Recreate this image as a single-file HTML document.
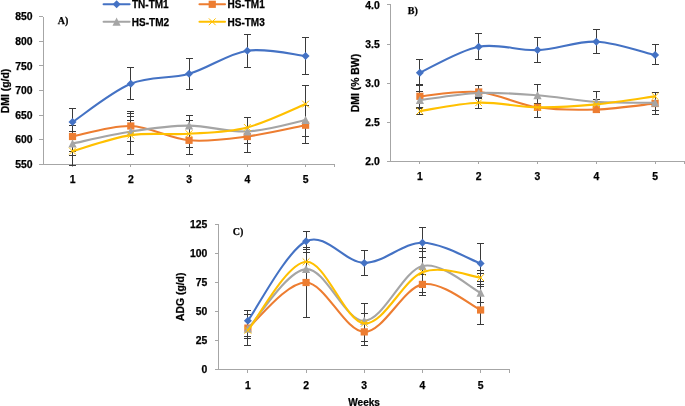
<!DOCTYPE html>
<html><head><meta charset="utf-8"><title>Charts</title>
<style>
html,body{margin:0;padding:0;background:#fff;}
body{width:685px;height:406px;overflow:hidden;font-family:"Liberation Sans", sans-serif;}
svg{display:block;will-change:transform;}
svg text{stroke:#000;stroke-width:0.25px;paint-order:stroke;}
</style></head><body>
<svg width="685" height="406" viewBox="0 0 685 406">
<rect width="685" height="406" fill="#fff"/>
<g stroke="#A6A6A6" stroke-width="1" fill="none" shape-rendering="crispEdges">
<path d="M43.4,16.7 V164.2"/>
<path d="M39.4,16.7 H43.4"/>
<path d="M39.4,41.28 H43.4"/>
<path d="M39.4,65.87 H43.4"/>
<path d="M39.4,90.45 H43.4"/>
<path d="M39.4,115.03 H43.4"/>
<path d="M39.4,139.62 H43.4"/>
<path d="M39.4,164.2 H43.4"/>
<path d="M39.4,164.2 H334.7"/>
<path d="M72.53,164.2 V167.2"/>
<path d="M130.79,164.2 V167.2"/>
<path d="M189.05,164.2 V167.2"/>
<path d="M247.31,164.2 V167.2"/>
<path d="M305.57,164.2 V167.2"/>
<path d="M334.7,164.2 V167.2"/>
</g>
<text x="32.6" y="20.4" font-size="10.4" text-anchor="end" font-weight="bold" font-family='"Liberation Sans", sans-serif' fill="#000000">850</text>
<text x="32.6" y="44.98" font-size="10.4" text-anchor="end" font-weight="bold" font-family='"Liberation Sans", sans-serif' fill="#000000">800</text>
<text x="32.6" y="69.57" font-size="10.4" text-anchor="end" font-weight="bold" font-family='"Liberation Sans", sans-serif' fill="#000000">750</text>
<text x="32.6" y="94.15" font-size="10.4" text-anchor="end" font-weight="bold" font-family='"Liberation Sans", sans-serif' fill="#000000">700</text>
<text x="32.6" y="118.73" font-size="10.4" text-anchor="end" font-weight="bold" font-family='"Liberation Sans", sans-serif' fill="#000000">650</text>
<text x="32.6" y="143.32" font-size="10.4" text-anchor="end" font-weight="bold" font-family='"Liberation Sans", sans-serif' fill="#000000">600</text>
<text x="32.6" y="167.9" font-size="10.4" text-anchor="end" font-weight="bold" font-family='"Liberation Sans", sans-serif' fill="#000000">550</text>
<text x="72.53" y="182.5" font-size="10.4" text-anchor="middle" font-weight="bold" font-family='"Liberation Sans", sans-serif' fill="#000000">1</text>
<text x="130.79" y="182.5" font-size="10.4" text-anchor="middle" font-weight="bold" font-family='"Liberation Sans", sans-serif' fill="#000000">2</text>
<text x="189.05" y="182.5" font-size="10.4" text-anchor="middle" font-weight="bold" font-family='"Liberation Sans", sans-serif' fill="#000000">3</text>
<text x="247.31" y="182.5" font-size="10.4" text-anchor="middle" font-weight="bold" font-family='"Liberation Sans", sans-serif' fill="#000000">4</text>
<text x="305.57" y="182.5" font-size="10.4" text-anchor="middle" font-weight="bold" font-family='"Liberation Sans", sans-serif' fill="#000000">5</text>
<g stroke="#3A3A3A" stroke-width="1" fill="none">
<path d="M72.5,108.5 V165.5"/>
<path d="M69,108.5 H76"/>
<path d="M69,136.5 H76"/>
<path d="M69,125.5 H76"/>
<path d="M69,131.5 H76"/>
<path d="M69,146.5 H76"/>
<path d="M69,151.5 H76"/>
<path d="M69,155.5 H76"/>
<path d="M69,165.5 H76"/>
<path d="M130.5,67.5 V99.5"/>
<path d="M127,67.5 H134"/>
<path d="M127,99.5 H134"/>
<path d="M130.5,111.5 V154.5"/>
<path d="M127,111.5 H134"/>
<path d="M127,113.5 H134"/>
<path d="M127,116.5 H134"/>
<path d="M127,120.5 H134"/>
<path d="M127,141.5 H134"/>
<path d="M127,154.5 H134"/>
<path d="M189.5,58.5 V89.5"/>
<path d="M186,58.5 H193"/>
<path d="M186,89.5 H193"/>
<path d="M189.5,115.5 V154.5"/>
<path d="M186,115.5 H193"/>
<path d="M186,120.5 H193"/>
<path d="M186,147.5 H193"/>
<path d="M186,154.5 H193"/>
<path d="M247.5,34.5 V67.5"/>
<path d="M244,34.5 H251"/>
<path d="M244,67.5 H251"/>
<path d="M247.5,117.5 V152.5"/>
<path d="M244,117.5 H251"/>
<path d="M244,117.5 H251"/>
<path d="M244,143.5 H251"/>
<path d="M244,152.5 H251"/>
<path d="M305.5,37.5 V74.5"/>
<path d="M302,37.5 H309"/>
<path d="M302,74.5 H309"/>
<path d="M305.5,85.5 V143.5"/>
<path d="M302,85.5 H309"/>
<path d="M302,105.5 H309"/>
<path d="M302,136.5 H309"/>
<path d="M302,143.5 H309"/>
</g>
<path d="M72.53,122.1 C82.24,115.72 111.37,91.85 130.79,83.8 C150.21,75.75 169.63,79.32 189.05,73.8 C208.47,68.28 227.89,53.67 247.31,50.7 C266.73,47.73 295.86,55.12 305.57,56" stroke="#4472C4" stroke-width="2.1" fill="none" stroke-linejoin="round" stroke-linecap="round"/>
<path d="M72.53,118.1 L76.53,122.1 L72.53,126.1 L68.53,122.1 Z" fill="#4472C4"/>
<path d="M130.79,79.8 L134.79,83.8 L130.79,87.8 L126.79,83.8 Z" fill="#4472C4"/>
<path d="M189.05,69.8 L193.05,73.8 L189.05,77.8 L185.05,73.8 Z" fill="#4472C4"/>
<path d="M247.31,46.7 L251.31,50.7 L247.31,54.7 L243.31,50.7 Z" fill="#4472C4"/>
<path d="M305.57,52 L309.57,56 L305.57,60 L301.57,56 Z" fill="#4472C4"/>
<path d="M72.53,136.5 C82.24,134.75 111.37,125.37 130.79,126 C150.21,126.63 169.63,138.55 189.05,140.3 C208.47,142.05 227.89,139.02 247.31,136.5 C266.73,133.98 295.86,127.08 305.57,125.2" stroke="#ED7D31" stroke-width="2.1" fill="none" stroke-linejoin="round" stroke-linecap="round"/>
<rect x="68.93" y="132.9" width="7.2" height="7.2" fill="#ED7D31"/>
<rect x="127.19" y="122.4" width="7.2" height="7.2" fill="#ED7D31"/>
<rect x="185.45" y="136.7" width="7.2" height="7.2" fill="#ED7D31"/>
<rect x="243.71" y="132.9" width="7.2" height="7.2" fill="#ED7D31"/>
<rect x="301.97" y="121.6" width="7.2" height="7.2" fill="#ED7D31"/>
<path d="M72.53,143.6 C82.24,141.58 111.37,134.5 130.79,131.5 C150.21,128.5 169.63,125.6 189.05,125.6 C208.47,125.6 227.89,132.43 247.31,131.5 C266.73,130.57 295.86,121.92 305.57,120" stroke="#A5A5A5" stroke-width="2.1" fill="none" stroke-linejoin="round" stroke-linecap="round"/>
<path d="M72.53,139.3 L76.63,147.5 L68.43,147.5 Z" fill="#A5A5A5"/>
<path d="M130.79,127.2 L134.89,135.4 L126.69,135.4 Z" fill="#A5A5A5"/>
<path d="M189.05,121.3 L193.15,129.5 L184.95,129.5 Z" fill="#A5A5A5"/>
<path d="M247.31,127.2 L251.41,135.4 L243.21,135.4 Z" fill="#A5A5A5"/>
<path d="M305.57,115.7 L309.67,123.9 L301.47,123.9 Z" fill="#A5A5A5"/>
<path d="M72.53,151.1 C82.24,148.43 111.37,137.98 130.79,135.1 C150.21,132.22 169.63,135.08 189.05,133.8 C208.47,132.52 227.89,132.35 247.31,127.4 C266.73,122.45 295.86,107.98 305.57,104.1" stroke="#FFC000" stroke-width="2.1" fill="none" stroke-linejoin="round" stroke-linecap="round"/>
<path d="M69.13,147.7 L75.93,154.5 M75.93,147.7 L69.13,154.5" stroke="#FFC000" stroke-width="1" fill="none"/>
<path d="M127.39,131.7 L134.19,138.5 M134.19,131.7 L127.39,138.5" stroke="#FFC000" stroke-width="1" fill="none"/>
<path d="M185.65,130.4 L192.45,137.2 M192.45,130.4 L185.65,137.2" stroke="#FFC000" stroke-width="1" fill="none"/>
<path d="M243.91,124 L250.71,130.8 M250.71,124 L243.91,130.8" stroke="#FFC000" stroke-width="1" fill="none"/>
<path d="M302.17,100.7 L308.97,107.5 M308.97,100.7 L302.17,107.5" stroke="#FFC000" stroke-width="1" fill="none"/>
<text x="9.4" y="91" font-size="10.4" text-anchor="middle" font-weight="bold" font-family='"Liberation Sans", sans-serif' fill="#000000" transform="rotate(-90 9.4 91)">DMI (g/d)</text>
<text x="57.8" y="23.5" font-size="10" text-anchor="start" font-weight="bold" font-family='"Liberation Serif", serif' fill="#000000">A)</text>
<g stroke="#A6A6A6" stroke-width="1" fill="none" shape-rendering="crispEdges">
<path d="M390.5,4.9 V161.3"/>
<path d="M386.5,4.9 H390.5"/>
<path d="M386.5,44 H390.5"/>
<path d="M386.5,83.1 H390.5"/>
<path d="M386.5,122.2 H390.5"/>
<path d="M386.5,161.3 H390.5"/>
<path d="M386.5,161.3 H684.5"/>
<path d="M419.9,161.3 V164.3"/>
<path d="M478.7,161.3 V164.3"/>
<path d="M537.5,161.3 V164.3"/>
<path d="M596.3,161.3 V164.3"/>
<path d="M655.1,161.3 V164.3"/>
<path d="M684.5,161.3 V164.3"/>
</g>
<text x="379.8" y="8.6" font-size="10.4" text-anchor="end" font-weight="bold" font-family='"Liberation Sans", sans-serif' fill="#000000">4.0</text>
<text x="379.8" y="47.7" font-size="10.4" text-anchor="end" font-weight="bold" font-family='"Liberation Sans", sans-serif' fill="#000000">3.5</text>
<text x="379.8" y="86.8" font-size="10.4" text-anchor="end" font-weight="bold" font-family='"Liberation Sans", sans-serif' fill="#000000">3.0</text>
<text x="379.8" y="125.9" font-size="10.4" text-anchor="end" font-weight="bold" font-family='"Liberation Sans", sans-serif' fill="#000000">2.5</text>
<text x="379.8" y="165" font-size="10.4" text-anchor="end" font-weight="bold" font-family='"Liberation Sans", sans-serif' fill="#000000">2.0</text>
<text x="419.9" y="179.6" font-size="10.4" text-anchor="middle" font-weight="bold" font-family='"Liberation Sans", sans-serif' fill="#000000">1</text>
<text x="478.7" y="179.6" font-size="10.4" text-anchor="middle" font-weight="bold" font-family='"Liberation Sans", sans-serif' fill="#000000">2</text>
<text x="537.5" y="179.6" font-size="10.4" text-anchor="middle" font-weight="bold" font-family='"Liberation Sans", sans-serif' fill="#000000">3</text>
<text x="596.3" y="179.6" font-size="10.4" text-anchor="middle" font-weight="bold" font-family='"Liberation Sans", sans-serif' fill="#000000">4</text>
<text x="655.1" y="179.6" font-size="10.4" text-anchor="middle" font-weight="bold" font-family='"Liberation Sans", sans-serif' fill="#000000">5</text>
<g stroke="#3A3A3A" stroke-width="1" fill="none">
<path d="M419.5,59.5 V114.5"/>
<path d="M416,59.5 H423"/>
<path d="M416,85.5 H423"/>
<path d="M416,84.5 H423"/>
<path d="M416,91.5 H423"/>
<path d="M416,107.5 H423"/>
<path d="M416,108.5 H423"/>
<path d="M416,114.5 H423"/>
<path d="M478.5,33.5 V59.5"/>
<path d="M475,33.5 H482"/>
<path d="M475,59.5 H482"/>
<path d="M478.5,85.5 V108.5"/>
<path d="M475,85.5 H482"/>
<path d="M475,97.5 H482"/>
<path d="M475,98.5 H482"/>
<path d="M475,108.5 H482"/>
<path d="M537.5,37.5 V62.5"/>
<path d="M534,37.5 H541"/>
<path d="M534,62.5 H541"/>
<path d="M537.5,84.5 V117.5"/>
<path d="M534,84.5 H541"/>
<path d="M534,103.5 H541"/>
<path d="M534,117.5 H541"/>
<path d="M596.5,29.5 V53.5"/>
<path d="M593,29.5 H600"/>
<path d="M593,53.5 H600"/>
<path d="M596.5,91.5 V112.5"/>
<path d="M593,91.5 H600"/>
<path d="M593,99.5 H600"/>
<path d="M593,112.5 H600"/>
<path d="M655.5,44.5 V64.5"/>
<path d="M652,44.5 H659"/>
<path d="M652,64.5 H659"/>
<path d="M655.5,92.5 V114.5"/>
<path d="M652,92.5 H659"/>
<path d="M652,92.5 H659"/>
<path d="M652,110.5 H659"/>
<path d="M652,114.5 H659"/>
</g>
<path d="M419.9,72.7 C429.7,68.37 459.1,50.47 478.7,46.7 C498.3,42.93 517.9,50.93 537.5,50.1 C557.1,49.27 576.7,40.88 596.3,41.7 C615.9,42.52 645.3,52.78 655.1,55" stroke="#4472C4" stroke-width="2.1" fill="none" stroke-linejoin="round" stroke-linecap="round"/>
<path d="M419.9,68.7 L423.9,72.7 L419.9,76.7 L415.9,72.7 Z" fill="#4472C4"/>
<path d="M478.7,42.7 L482.7,46.7 L478.7,50.7 L474.7,46.7 Z" fill="#4472C4"/>
<path d="M537.5,46.1 L541.5,50.1 L537.5,54.1 L533.5,50.1 Z" fill="#4472C4"/>
<path d="M596.3,37.7 L600.3,41.7 L596.3,45.7 L592.3,41.7 Z" fill="#4472C4"/>
<path d="M655.1,51 L659.1,55 L655.1,59 L651.1,55 Z" fill="#4472C4"/>
<path d="M419.9,96.3 C429.7,95.58 459.1,90.17 478.7,92 C498.3,93.83 517.9,104.38 537.5,107.3 C557.1,110.22 576.7,110.13 596.3,109.5 C615.9,108.87 645.3,104.5 655.1,103.5" stroke="#ED7D31" stroke-width="2.1" fill="none" stroke-linejoin="round" stroke-linecap="round"/>
<rect x="416.3" y="92.7" width="7.2" height="7.2" fill="#ED7D31"/>
<rect x="475.1" y="88.4" width="7.2" height="7.2" fill="#ED7D31"/>
<rect x="533.9" y="103.7" width="7.2" height="7.2" fill="#ED7D31"/>
<rect x="592.7" y="105.9" width="7.2" height="7.2" fill="#ED7D31"/>
<rect x="651.5" y="99.9" width="7.2" height="7.2" fill="#ED7D31"/>
<path d="M419.9,100.2 C429.7,99 459.1,93.82 478.7,93 C498.3,92.18 517.9,93.83 537.5,95.3 C557.1,96.77 576.7,100.55 596.3,101.8 C615.9,103.05 645.3,102.63 655.1,102.8" stroke="#A5A5A5" stroke-width="2.1" fill="none" stroke-linejoin="round" stroke-linecap="round"/>
<path d="M419.9,95.9 L424,104.1 L415.8,104.1 Z" fill="#A5A5A5"/>
<path d="M478.7,88.7 L482.8,96.9 L474.6,96.9 Z" fill="#A5A5A5"/>
<path d="M537.5,91 L541.6,99.2 L533.4,99.2 Z" fill="#A5A5A5"/>
<path d="M596.3,97.5 L600.4,105.7 L592.2,105.7 Z" fill="#A5A5A5"/>
<path d="M655.1,98.5 L659.2,106.7 L651,106.7 Z" fill="#A5A5A5"/>
<path d="M419.9,111.1 C429.7,109.7 459.1,103.33 478.7,102.7 C498.3,102.07 517.9,107.02 537.5,107.3 C557.1,107.58 576.7,106.22 596.3,104.4 C615.9,102.58 645.3,97.73 655.1,96.4" stroke="#FFC000" stroke-width="2.1" fill="none" stroke-linejoin="round" stroke-linecap="round"/>
<path d="M416.5,107.7 L423.3,114.5 M423.3,107.7 L416.5,114.5" stroke="#FFC000" stroke-width="1" fill="none"/>
<path d="M475.3,99.3 L482.1,106.1 M482.1,99.3 L475.3,106.1" stroke="#FFC000" stroke-width="1" fill="none"/>
<path d="M534.1,103.9 L540.9,110.7 M540.9,103.9 L534.1,110.7" stroke="#FFC000" stroke-width="1" fill="none"/>
<path d="M592.9,101 L599.7,107.8 M599.7,101 L592.9,107.8" stroke="#FFC000" stroke-width="1" fill="none"/>
<path d="M651.7,93 L658.5,99.8 M658.5,93 L651.7,99.8" stroke="#FFC000" stroke-width="1" fill="none"/>
<text x="359.4" y="83" font-size="10.4" text-anchor="middle" font-weight="bold" font-family='"Liberation Sans", sans-serif' fill="#000000" transform="rotate(-90 359.4 83)">DMI (% BW)</text>
<text x="407.8" y="13.8" font-size="10" text-anchor="start" font-weight="bold" font-family='"Liberation Serif", serif' fill="#000000">B)</text>
<g stroke="#A6A6A6" stroke-width="1" fill="none" shape-rendering="crispEdges">
<path d="M218.8,224.3 V369.6"/>
<path d="M214.8,224.3 H218.8"/>
<path d="M214.8,253.36 H218.8"/>
<path d="M214.8,282.42 H218.8"/>
<path d="M214.8,311.48 H218.8"/>
<path d="M214.8,340.54 H218.8"/>
<path d="M214.8,369.6 H218.8"/>
<path d="M214.8,369.6 H509.7"/>
<path d="M247.89,369.6 V372.6"/>
<path d="M306.07,369.6 V372.6"/>
<path d="M364.25,369.6 V372.6"/>
<path d="M422.43,369.6 V372.6"/>
<path d="M480.61,369.6 V372.6"/>
<path d="M509.7,369.6 V372.6"/>
</g>
<text x="207.4" y="228" font-size="10.4" text-anchor="end" font-weight="bold" font-family='"Liberation Sans", sans-serif' fill="#000000">125</text>
<text x="207.4" y="257.06" font-size="10.4" text-anchor="end" font-weight="bold" font-family='"Liberation Sans", sans-serif' fill="#000000">100</text>
<text x="207.4" y="286.12" font-size="10.4" text-anchor="end" font-weight="bold" font-family='"Liberation Sans", sans-serif' fill="#000000">75</text>
<text x="207.4" y="315.18" font-size="10.4" text-anchor="end" font-weight="bold" font-family='"Liberation Sans", sans-serif' fill="#000000">50</text>
<text x="207.4" y="344.24" font-size="10.4" text-anchor="end" font-weight="bold" font-family='"Liberation Sans", sans-serif' fill="#000000">25</text>
<text x="207.4" y="373.3" font-size="10.4" text-anchor="end" font-weight="bold" font-family='"Liberation Sans", sans-serif' fill="#000000">0</text>
<text x="247.89" y="389" font-size="10.4" text-anchor="middle" font-weight="bold" font-family='"Liberation Sans", sans-serif' fill="#000000">1</text>
<text x="306.07" y="389" font-size="10.4" text-anchor="middle" font-weight="bold" font-family='"Liberation Sans", sans-serif' fill="#000000">2</text>
<text x="364.25" y="389" font-size="10.4" text-anchor="middle" font-weight="bold" font-family='"Liberation Sans", sans-serif' fill="#000000">3</text>
<text x="422.43" y="389" font-size="10.4" text-anchor="middle" font-weight="bold" font-family='"Liberation Sans", sans-serif' fill="#000000">4</text>
<text x="480.61" y="389" font-size="10.4" text-anchor="middle" font-weight="bold" font-family='"Liberation Sans", sans-serif' fill="#000000">5</text>
<g stroke="#3A3A3A" stroke-width="1" fill="none">
<path d="M247.5,310.5 V345.5"/>
<path d="M244,310.5 H251"/>
<path d="M244,314.5 H251"/>
<path d="M244,336.5 H251"/>
<path d="M244,338.5 H251"/>
<path d="M244,345.5 H251"/>
<path d="M306.5,231.5 V317.5"/>
<path d="M303,231.5 H310"/>
<path d="M303,247.5 H310"/>
<path d="M303,249.5 H310"/>
<path d="M303,252.5 H310"/>
<path d="M303,317.5 H310"/>
<path d="M364.5,250.5 V275.5"/>
<path d="M361,250.5 H368"/>
<path d="M361,275.5 H368"/>
<path d="M364.5,303.5 V345.5"/>
<path d="M361,303.5 H368"/>
<path d="M361,313.5 H368"/>
<path d="M361,341.5 H368"/>
<path d="M361,345.5 H368"/>
<path d="M422.5,227.5 V295.5"/>
<path d="M419,227.5 H426"/>
<path d="M419,248.5 H426"/>
<path d="M419,251.5 H426"/>
<path d="M419,257.5 H426"/>
<path d="M419,274.5 H426"/>
<path d="M419,292.5 H426"/>
<path d="M419,295.5 H426"/>
<path d="M480.5,243.5 V324.5"/>
<path d="M477,243.5 H484"/>
<path d="M477,270.5 H484"/>
<path d="M477,273.5 H484"/>
<path d="M477,281.5 H484"/>
<path d="M477,284.5 H484"/>
<path d="M477,286.5 H484"/>
<path d="M477,302.5 H484"/>
<path d="M477,324.5 H484"/>
</g>
<path d="M247.89,320.7 C257.59,307.47 286.68,250.93 306.07,241.3 C325.46,231.67 344.86,262.67 364.25,262.9 C383.64,263.13 403.04,242.58 422.43,242.7 C441.82,242.82 470.91,260.12 480.61,263.6" stroke="#4472C4" stroke-width="2.1" fill="none" stroke-linejoin="round" stroke-linecap="round"/>
<path d="M247.89,316.7 L251.89,320.7 L247.89,324.7 L243.89,320.7 Z" fill="#4472C4"/>
<path d="M306.07,237.3 L310.07,241.3 L306.07,245.3 L302.07,241.3 Z" fill="#4472C4"/>
<path d="M364.25,258.9 L368.25,262.9 L364.25,266.9 L360.25,262.9 Z" fill="#4472C4"/>
<path d="M422.43,238.7 L426.43,242.7 L422.43,246.7 L418.43,242.7 Z" fill="#4472C4"/>
<path d="M480.61,259.6 L484.61,263.6 L480.61,267.6 L476.61,263.6 Z" fill="#4472C4"/>
<path d="M247.89,328.1 C257.59,320.5 286.68,281.87 306.07,282.5 C325.46,283.13 344.86,331.58 364.25,331.9 C383.64,332.22 403.04,288.05 422.43,284.4 C441.82,280.75 470.91,305.73 480.61,310" stroke="#ED7D31" stroke-width="2.1" fill="none" stroke-linejoin="round" stroke-linecap="round"/>
<rect x="244.29" y="324.5" width="7.2" height="7.2" fill="#ED7D31"/>
<rect x="302.47" y="278.9" width="7.2" height="7.2" fill="#ED7D31"/>
<rect x="360.65" y="328.3" width="7.2" height="7.2" fill="#ED7D31"/>
<rect x="418.83" y="280.8" width="7.2" height="7.2" fill="#ED7D31"/>
<rect x="477.01" y="306.4" width="7.2" height="7.2" fill="#ED7D31"/>
<path d="M247.89,328.8 C257.59,318.85 286.68,270.43 306.07,269.1 C325.46,267.77 344.86,321.32 364.25,320.8 C383.64,320.28 403.04,270.67 422.43,266 C441.82,261.33 470.91,288.33 480.61,292.8" stroke="#A5A5A5" stroke-width="2.1" fill="none" stroke-linejoin="round" stroke-linecap="round"/>
<path d="M247.89,324.5 L251.99,332.7 L243.79,332.7 Z" fill="#A5A5A5"/>
<path d="M306.07,264.8 L310.17,273 L301.97,273 Z" fill="#A5A5A5"/>
<path d="M364.25,316.5 L368.35,324.7 L360.15,324.7 Z" fill="#A5A5A5"/>
<path d="M422.43,261.7 L426.53,269.9 L418.33,269.9 Z" fill="#A5A5A5"/>
<path d="M480.61,288.5 L484.71,296.7 L476.51,296.7 Z" fill="#A5A5A5"/>
<path d="M247.89,330.3 C257.59,318.88 286.68,262.97 306.07,261.8 C325.46,260.63 344.86,321.57 364.25,323.3 C383.64,325.03 403.04,279.82 422.43,272.2 C441.82,264.58 470.91,276.7 480.61,277.6" stroke="#FFC000" stroke-width="2.1" fill="none" stroke-linejoin="round" stroke-linecap="round"/>
<path d="M244.49,326.9 L251.29,333.7 M251.29,326.9 L244.49,333.7" stroke="#FFC000" stroke-width="1" fill="none"/>
<path d="M302.67,258.4 L309.47,265.2 M309.47,258.4 L302.67,265.2" stroke="#FFC000" stroke-width="1" fill="none"/>
<path d="M360.85,319.9 L367.65,326.7 M367.65,319.9 L360.85,326.7" stroke="#FFC000" stroke-width="1" fill="none"/>
<path d="M419.03,268.8 L425.83,275.6 M425.83,268.8 L419.03,275.6" stroke="#FFC000" stroke-width="1" fill="none"/>
<path d="M477.21,274.2 L484.01,281 M484.01,274.2 L477.21,281" stroke="#FFC000" stroke-width="1" fill="none"/>
<text x="184.2" y="296.8" font-size="10.4" text-anchor="middle" font-weight="bold" font-family='"Liberation Sans", sans-serif' fill="#000000" transform="rotate(-90 184.2 296.8)">ADG (g/d)</text>
<text x="232.8" y="234.6" font-size="10" text-anchor="start" font-weight="bold" font-family='"Liberation Serif", serif' fill="#000000">C)</text>
<text x="364.1" y="405.6" font-size="10" text-anchor="middle" font-weight="bold" font-family='"Liberation Sans", sans-serif' fill="#000000">Weeks</text>
<path d="M103.6,4.3 H129.6" stroke="#4472C4" stroke-width="2.1" stroke-linecap="round"/><path d="M116.6,0.3 L120.6,4.3 L116.6,8.3 L112.6,4.3 Z" fill="#4472C4"/><text x="132" y="8.2" font-size="10" text-anchor="start" font-weight="bold" font-family='"Liberation Sans", sans-serif' fill="#000000">TN-TM1</text>
<path d="M199.5,4.3 H225" stroke="#ED7D31" stroke-width="2.1" stroke-linecap="round"/><rect x="208.65" y="0.7" width="7.2" height="7.2" fill="#ED7D31"/><text x="227.5" y="8.2" font-size="10" text-anchor="start" font-weight="bold" font-family='"Liberation Sans", sans-serif' fill="#000000">HS-TM1</text>
<path d="M103.6,21.8 H129.6" stroke="#A5A5A5" stroke-width="2.1" stroke-linecap="round"/><path d="M116.6,17.5 L120.7,25.7 L112.5,25.7 Z" fill="#A5A5A5"/><text x="131.8" y="26.2" font-size="10" text-anchor="start" font-weight="bold" font-family='"Liberation Sans", sans-serif' fill="#000000">HS-TM2</text>
<path d="M199.5,21.8 H225" stroke="#FFC000" stroke-width="2.1" stroke-linecap="round"/><path d="M208.85,18.4 L215.65,25.2 M215.65,18.4 L208.85,25.2" stroke="#FFC000" stroke-width="1" fill="none"/><text x="227.5" y="26.2" font-size="10" text-anchor="start" font-weight="bold" font-family='"Liberation Sans", sans-serif' fill="#000000">HS-TM3</text>
</svg>
</body></html>
